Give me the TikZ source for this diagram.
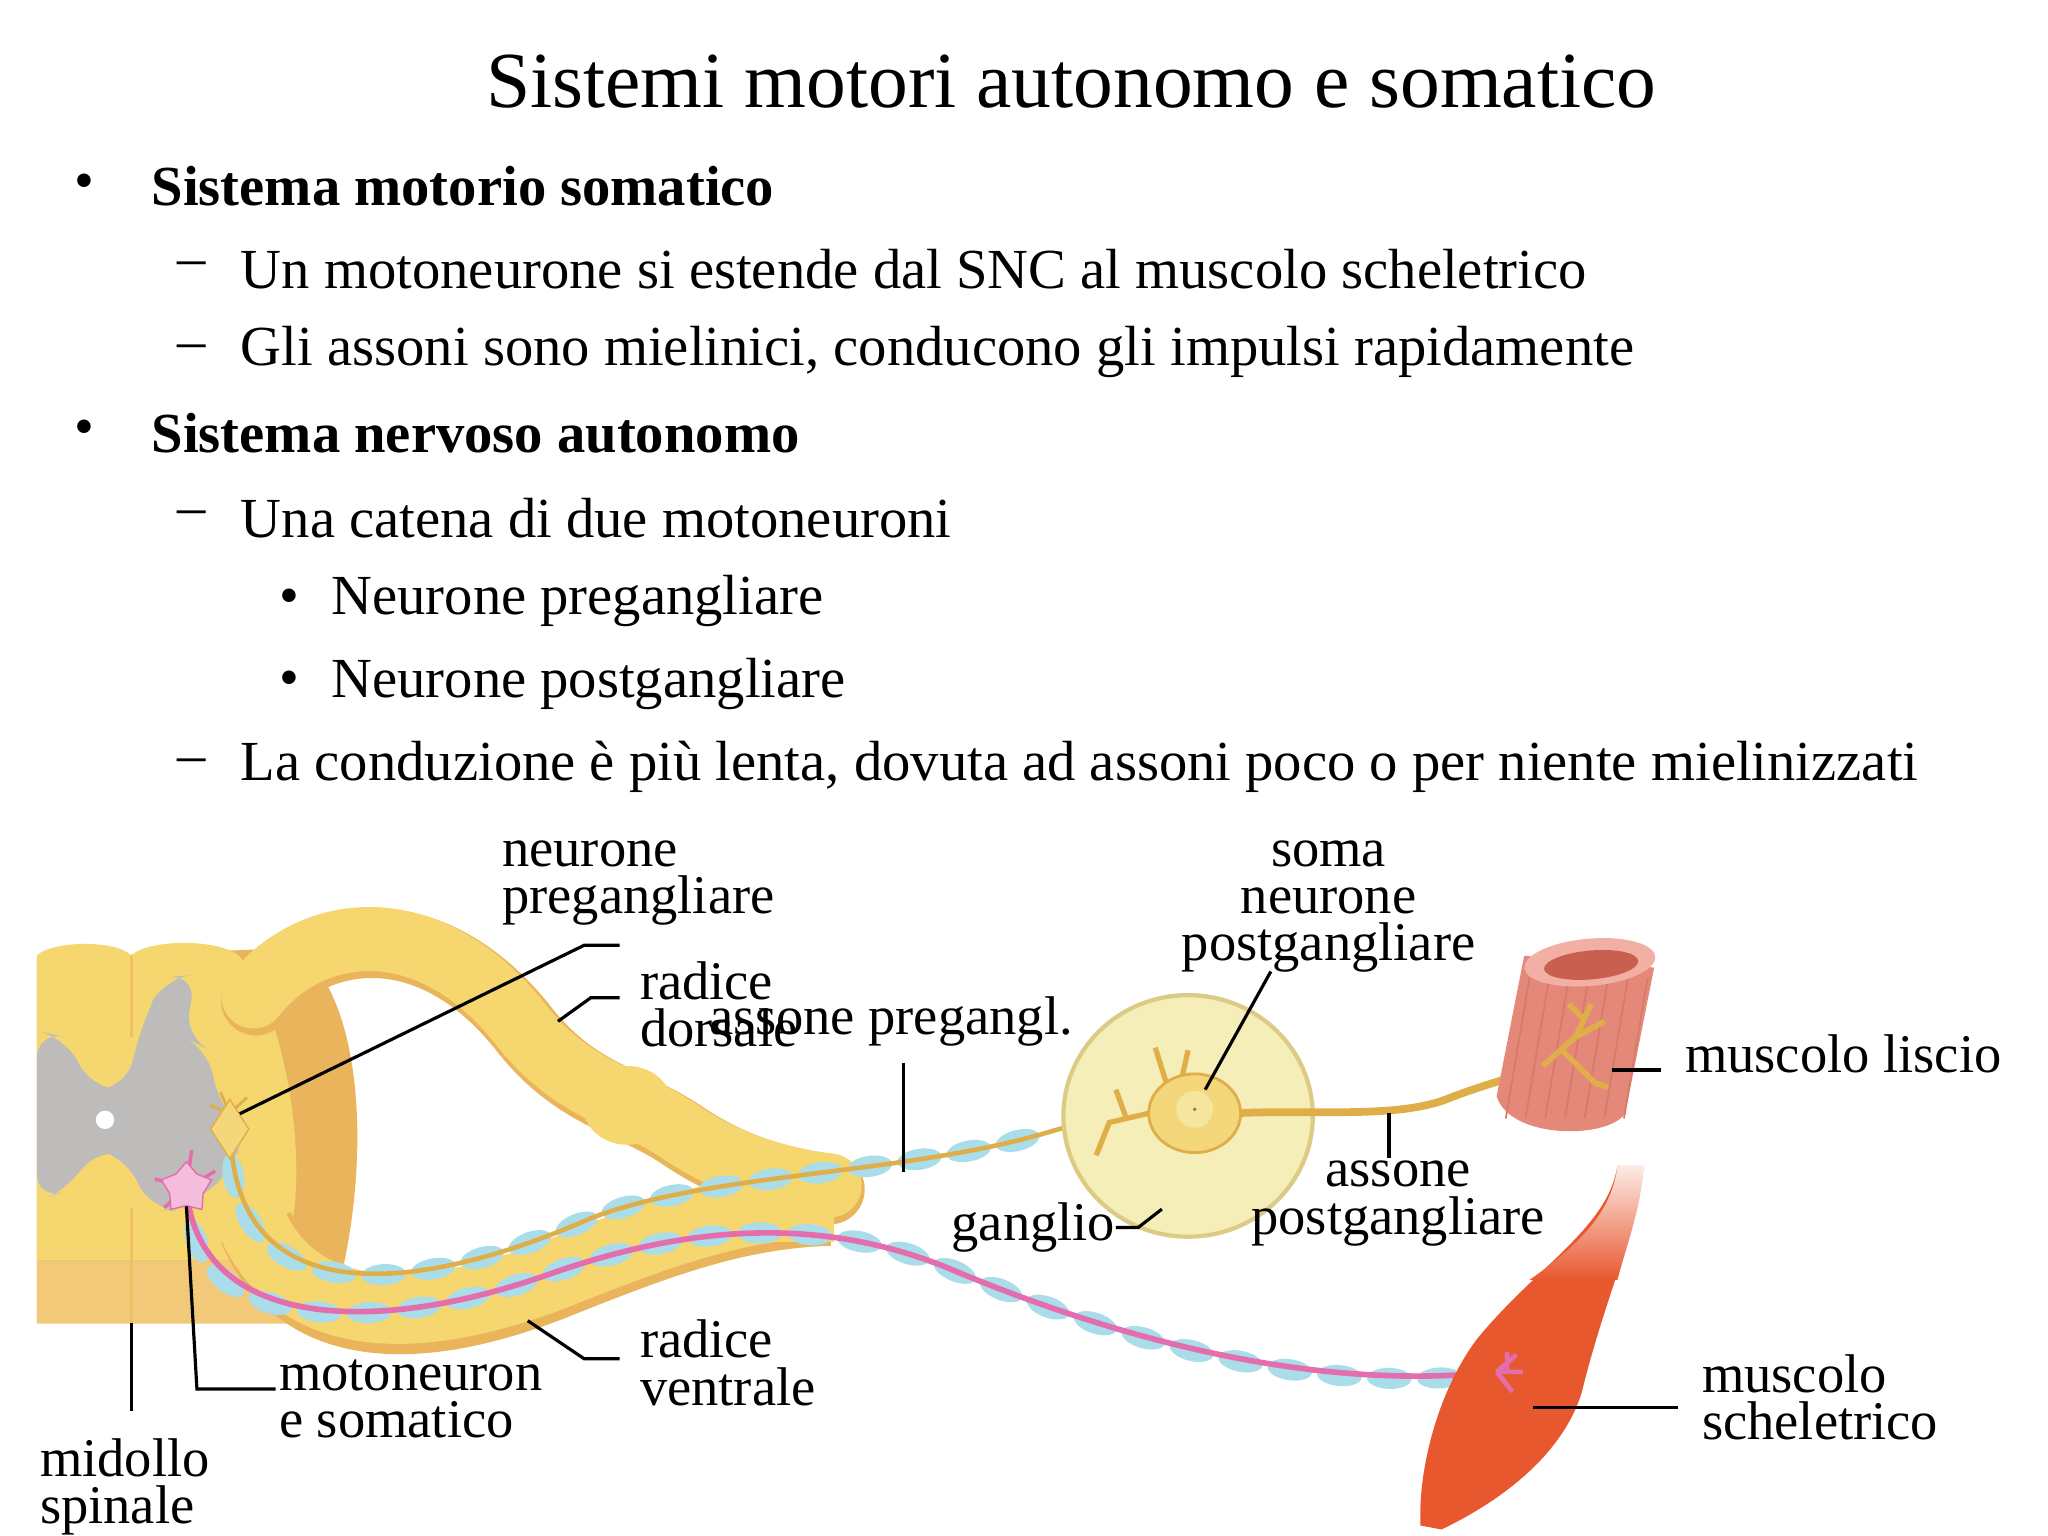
\documentclass[tikz,border=0pt]{standalone}
\usepackage{fontspec}
\setmainfont{Liberation Serif}
\usetikzlibrary{decorations.markings,shapes.geometric}
\definecolor{cordY}{HTML}{F6D66E}
\definecolor{cordO}{HTML}{E9B45C}
\definecolor{cordL}{HTML}{F2C978}
\definecolor{grayM}{HTML}{BDBCBA}
\definecolor{myel}{HTML}{A9DDEA}
\definecolor{pinkAx}{HTML}{E46DAE}
\definecolor{axY}{HTML}{E0AE48}
\definecolor{gangF}{HTML}{F6EEB8}
\definecolor{gangD}{HTML}{DCCB84}
\definecolor{somaF}{HTML}{F3D77A}
\definecolor{smoothC}{HTML}{E4897A}
\definecolor{smoothL}{HTML}{F2B0A4}
\definecolor{smoothD}{HTML}{C9604F}
\definecolor{skelC}{HTML}{E8582F}
\tikzset{
  lab/.style={font=\fontsize{15.5}{13.4}\selectfont, align=left, inner sep=0pt},
  labc/.style={font=\fontsize{15.5}{13.4}\selectfont, align=center, inner sep=0pt},
  body/.style={font=\fontsize{16.1}{19}\selectfont, anchor=west, inner sep=0pt},
  lead/.style={draw=black, line width=0.9pt},
  chain/.style={postaction={decorate}, decoration={markings, mark=between positions 0.02 and 0.98 step 0.5cm with {\fill[myel] (0,0) ellipse (17 and 8);}}}
}
\begin{document}
\begin{tikzpicture}[x=0.013128cm,y=-0.013128cm]
\useasboundingbox[fill=white] (0,0) rectangle (1560,1170);
% ---------- text ----------
\node[font=\fontsize{22.6}{26}\selectfont, inner sep=0pt] (title) at (816,62) {Sistemi motori autonomo e somatico};
\node[body] (b1) at (56,142) {•};
\node[body, font=\fontsize{16.1}{19}\selectfont\bfseries] (t1) at (115,142) {Sistema motorio somatico};
\node[body] (d1) at (135,205) {–};
\node[body] (t2) at (183,205) {Un motoneurone si estende dal SNC al muscolo scheletrico};
\node[body] (d2) at (135,268) {–};
\node[body] (t3) at (183,268) {Gli assoni sono mielinici, conducono gli impulsi rapidamente};
\node[body] (b2) at (56,330) {•};
\node[body, font=\fontsize{16.1}{19}\selectfont\bfseries] (t4) at (115,330) {Sistema nervoso autonomo};
\node[body] (d3) at (135,395) {–};
\node[body] (t5) at (183,395) {Una catena di due motoneuroni};
\node[body] (b3) at (212,458) {•};
\node[body] (t6) at (252,458) {Neurone pregangliare};
\node[body] (b4) at (212,521) {•};
\node[body] (t7) at (252,521) {Neurone postgangliare};
\node[body] (d4) at (135,584) {–};
\node[body] (t8) at (183,584) {La conduzione è più lenta, dovuta ad assoni poco o per niente mielinizzati};
% ---------- spinal cord ----------
\fill[cordO] (28,730) -- (225,722) .. controls (280,760) and (285,900) .. (250,1008) -- (28,1008) -- cycle;
\fill[cordY] (28,728) .. controls (40,716) and (90,716) .. (100,728) .. controls (110,716) and (165,714) .. (182,728) .. controls (218,770) and (240,900) .. (215,960) -- (28,960) -- cycle;
\fill[cordL] (28,960) -- (215,960) .. controls (222,985) and (222,1000) .. (218,1008) -- (28,1008) -- cycle;
\draw[cordO!60!cordY, line width=1pt] (100,728) -- (100,790) (100,920) -- (100,1008);
\fill[grayM, rounded corners=8] (28,785) -- (50,790) -- (70,830) -- (95,830) -- (110,775) -- (125,745) -- (150,742) -- (140,790) -- (160,800) -- (165,840) -- (185,860) -- (178,892) -- (160,905) -- (140,922) -- (115,922) -- (95,880) -- (70,875) -- (55,905) -- (28,915) -- cycle;
\fill[white] (80,853) circle (7);
% ---------- roots ----------
\draw[cordO, line width=0.70cm, line cap=round] (195,762) .. controls (240,705) and (330,695) .. (400,785) .. controls (440,835) and (480,838) .. (520,865) .. controls (560,892) and (600,902) .. (632,906);
\draw[cordY, line width=0.64cm, line cap=round] (193,759) .. controls (238,702) and (328,692) .. (398,782) .. controls (438,832) and (478,835) .. (518,862) .. controls (558,889) and (600,899) .. (632,903);
\fill[cordY] (478,842) ellipse (34 and 30);
\draw[cordO, line width=0.76cm] (195,935) .. controls (232,1022) and (330,1012) .. (420,977) .. controls (500,945) and (560,922) .. (632,920);
\draw[cordY, line width=0.7cm] (192,932) .. controls (230,1016) and (330,1006) .. (420,972) .. controls (500,940) and (560,918) .. (632,915);
\fill[cordY] (590,880) rectangle (635,946);
% ---------- myelinated chains ----------
\path[chain] (176,882) .. controls (185,1000) and (320,985) .. (450,928) .. controls (540,893) and (690,895) .. (800,862);
\draw[axY, line width=1.3pt] (176,872) .. controls (185,1000) and (320,985) .. (450,928) .. controls (540,893) and (690,895) .. (800,862) .. controls (840,850) and (870,845) .. (905,848);
\path[chain] (146,925) .. controls (150,1010) and (280,1020) .. (420,970) .. controls (520,935) and (620,925) .. (720,965) .. controls (850,1020) and (990,1060) .. (1120,1048);
\draw[pinkAx, line width=1.6pt] (142,905) .. controls (150,1010) and (280,1020) .. (420,970) .. controls (520,935) and (620,925) .. (720,965) .. controls (850,1020) and (1000,1060) .. (1140,1045);
% neurons in cord
\draw[axY, line width=0.8pt] (175,848) -- (168,832) (175,848) -- (188,836) (175,848) -- (160,842);
\node[diamond, fill=somaF, draw=axY, minimum width=11pt, minimum height=17pt, inner sep=0pt] (pre) at (175,860) {};
\draw[pinkAx, line width=1pt] (142,905) -- (146,876) (142,905) -- (118,898) (142,905) -- (164,892) (142,905) -- (125,920);
\node[star, star points=5, fill=pinkAx!45, draw=pinkAx, minimum size=15pt, inner sep=0pt] (moto) at (142,905) {};
% ---------- ganglion ----------
\fill[gangF, draw=gangD, line width=1.2pt] (905,850) ellipse (95 and 92);
\draw[axY, line width=1.5pt] (875,848) -- (845,855) -- (835,880) (858,852) -- (850,830) (890,830) -- (880,798) (900,822) -- (905,800);
\draw[axY, line width=2.2pt] (940,848) .. controls (1000,845) and (1060,852) .. (1100,838) .. controls (1130,826) and (1150,822) .. (1175,812);
\fill[somaF, draw=axY, line width=0.8pt] (910,848) ellipse (35 and 30);
\fill[gangF!60!somaF] (910,845) circle (14);
\fill[axY!70!black] (910,845) circle (1.5);
% ---------- smooth muscle ----------
\fill[smoothC] (1161,728) -- (1140,835) .. controls (1150,868) and (1225,868) .. (1238,848) -- (1260,737) -- cycle;
\foreach \dx in {0,15,30,45,60,75,90} {\draw[smoothD!40!smoothC, line width=0.5pt] (1165+\dx,745) -- (1147+\dx,852);}
\fill[smoothL] (1211,733) ellipse [x radius=50, y radius=18, rotate=5];
\fill[smoothD] (1212,735) ellipse [x radius=36, y radius=11, rotate=5];
\draw[axY, line width=1.6pt] (1175,812) -- (1200,790) -- (1212,765) (1200,790) -- (1222,778) (1190,800) -- (1215,825) -- (1225,828) (1205,775) -- (1195,765);
% ---------- skeletal muscle ----------
\fill[skelC] (1232,888) -- (1252,888) .. controls (1248,935) and (1222,990) .. (1205,1060) .. controls (1190,1110) and (1140,1145) .. (1098,1165) -- (1082,1162) .. controls (1080,1120) and (1095,1060) .. (1125,1020) .. controls (1170,965) and (1225,935) .. (1232,888) -- cycle;
\shade[top color=white!88!skelC, bottom color=skelC] (1232,888) -- (1252,888) .. controls (1250,920) and (1240,945) .. (1232,975) -- (1165,975) .. controls (1200,950) and (1228,925) .. (1232,888) -- cycle;
\draw[pinkAx, line width=1.3pt] (1140,1045) -- (1155,1032) (1140,1045) -- (1160,1045) (1140,1045) -- (1152,1060) (1148,1045) -- (1148,1030);
% ---------- labels ----------
\node[lab, anchor=north west] (lnp) at (382,640) {neurone\\pregangliare};
\node[lab, anchor=north west] (lrd) at (487,732) {radice\\dorsale};
\node[lab, anchor=west] (lap) at (540,778) {assone pregangl.};
\node[labc, anchor=north] (lsn) at (1012,640) {soma\\neurone\\postgangliare};
\node[lab, anchor=west] (lml) at (1283,803) {muscolo liscio};
\node[labc, anchor=north] (lax) at (1065,884) {assone\\postgangliare};
\node[lab, anchor=east] (lga) at (850,935) {ganglio};
\node[lab, anchor=north west] (lrv) at (487,1005) {radice\\ventrale};
\node[lab, anchor=north west] (lmo) at (212,1035) {motoneuron\\e somatico};
\node[lab, anchor=north west] (lmi) at (30,1095) {midollo\\spinale};
\node[lab, anchor=north west] (lms) at (1296,1031) {muscolo\\scheletrico};
% ---------- leaders ----------
\coordinate (c1) at (445,720);
\draw[lead] (472,720) -- (c1) -- (pre.north east);
\draw[lead] (472,760) -- (450,760) -- (425,778);
\draw[lead] (688,810) -- (688,893);
\draw[lead] (968,740) -- (918,830);
\draw[lead] (1265,815) -- (1228,815);
\draw[lead] (1058,882) -- (1058,848);
\draw[lead] (lga.east) -- (867,935) -- (885,921);
\draw[lead] (472,1035) -- (445,1035) -- (402,1006);
\draw[lead] (210,1058) -- (150,1058) -- (moto.south);
\draw[lead] (100,1008) -- (100,1075);
\draw[lead] (1278,1072) -- (1168,1072);
\end{tikzpicture}
\end{document}
